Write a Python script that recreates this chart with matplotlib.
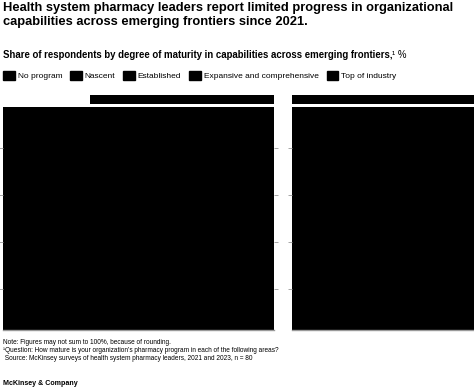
import matplotlib.pyplot as plt
from matplotlib.patches import Patch

# all segments in the reference render as solid black, values are estimates
levels = ["No program", "Nascent", "Established", "Expansive and comprehensive", "Top of industry"]
rows = ["Frontier 1", "Frontier 2", "Frontier 3", "Frontier 4", "Frontier 5"]
share_2021 = [
    [20, 35, 30, 12, 3],
    [25, 35, 25, 12, 3],
    [30, 30, 25, 10, 5],
    [35, 30, 20, 10, 5],
    [40, 30, 18, 9, 3],
]
share_2023 = [
    [15, 35, 32, 14, 4],
    [20, 35, 28, 13, 4],
    [25, 32, 26, 12, 5],
    [30, 30, 24, 11, 5],
    [35, 30, 22, 10, 3],
]
header_share = [100]

plt.rcParams['font.family'] = ['Liberation Sans', 'DejaVu Sans']

W, H = 474, 389
fig = plt.figure(figsize=(W / 100, H / 100), dpi=100)

def fx(px):
    return px / W

def fy(px):
    return 1 - px / H

def panel(x0, x1, data, ticks_right):
    ax = fig.add_axes([fx(x0), fy(330), fx(x1 - x0), (330 - 107) / H])
    left = [0] * len(rows)
    for j in range(len(levels)):
        vals = [r[j] for r in data]
        ax.barh(range(len(rows)), vals, left=left, height=1.0, color='black', edgecolor='black', linewidth=0)
        left = [a + b for a, b in zip(left, vals)]
    ax.set_xlim(0, 100)
    ax.set_ylim(-0.372, 4.372)
    ax.set_yticks([0.5, 1.5, 2.5, 3.5])
    ax.set_xticks([])
    ax.tick_params(axis='y', direction='out', length=3, width=0.6, color='#999999',
                   labelleft=False, left=True, right=ticks_right)
    for s in ['top', 'left', 'right']:
        ax.spines[s].set_visible(False)
    ax.spines['bottom'].set_color('#9a9a9a')
    ax.spines['bottom'].set_linewidth(1.0)
    return ax

def header(x0, x1):
    ax = fig.add_axes([fx(x0), fy(104), fx(x1 - x0), 9 / H])
    ax.barh([0], header_share, height=1.0, color='black', linewidth=0)
    ax.set_xlim(0, 100)
    ax.set_ylim(-0.5, 0.5)
    ax.axis('off')

panel(3, 274, share_2021, True)
panel(292, 474, share_2023, False)
header(90, 274)
header(292, 474)

fig.text(fx(3), fy(2), "Health system pharmacy leaders report limited progress in organizational\n"
         "capabilities across emerging frontiers since 2021.",
         fontsize=9.25, fontweight='bold', va='top', ha='left', linespacing=1.22)
fig.text(fx(3), fy(50), "Share of respondents by degree of maturity in capabilities across emerging frontiers,",
         fontsize=6.9, fontweight='bold', va='top', ha='left')
fig.text(fx(392), fy(50), "\u00b9 %", fontsize=6.9, va='top', ha='left')

handles = [Patch(facecolor='black', edgecolor='black') for _ in levels]
fig.legend(handles, levels, loc='upper left', bbox_to_anchor=(fx(3), fy(71)), ncol=5,
           frameon=False, fontsize=6.0, handlelength=1.4, handleheight=1.35,
           handletextpad=0.35, columnspacing=0.95, borderaxespad=0, borderpad=0)

fig.text(fx(3), fy(339), "Note: Figures may not sum to 100%, because of rounding.\n"
         "\u00b9Question: How mature is your organization\u2019s pharmacy program in each of the following areas?\n"
         " Source: McKinsey surveys of health system pharmacy leaders, 2021 and 2023, n = 80",
         fontsize=4.7, va='top', ha='left', linespacing=1.15)
fig.text(fx(3), fy(380), "McKinsey & Company", fontsize=5.1, fontweight='bold', va='top', ha='left')

fig.savefig("out.png", dpi=100)
